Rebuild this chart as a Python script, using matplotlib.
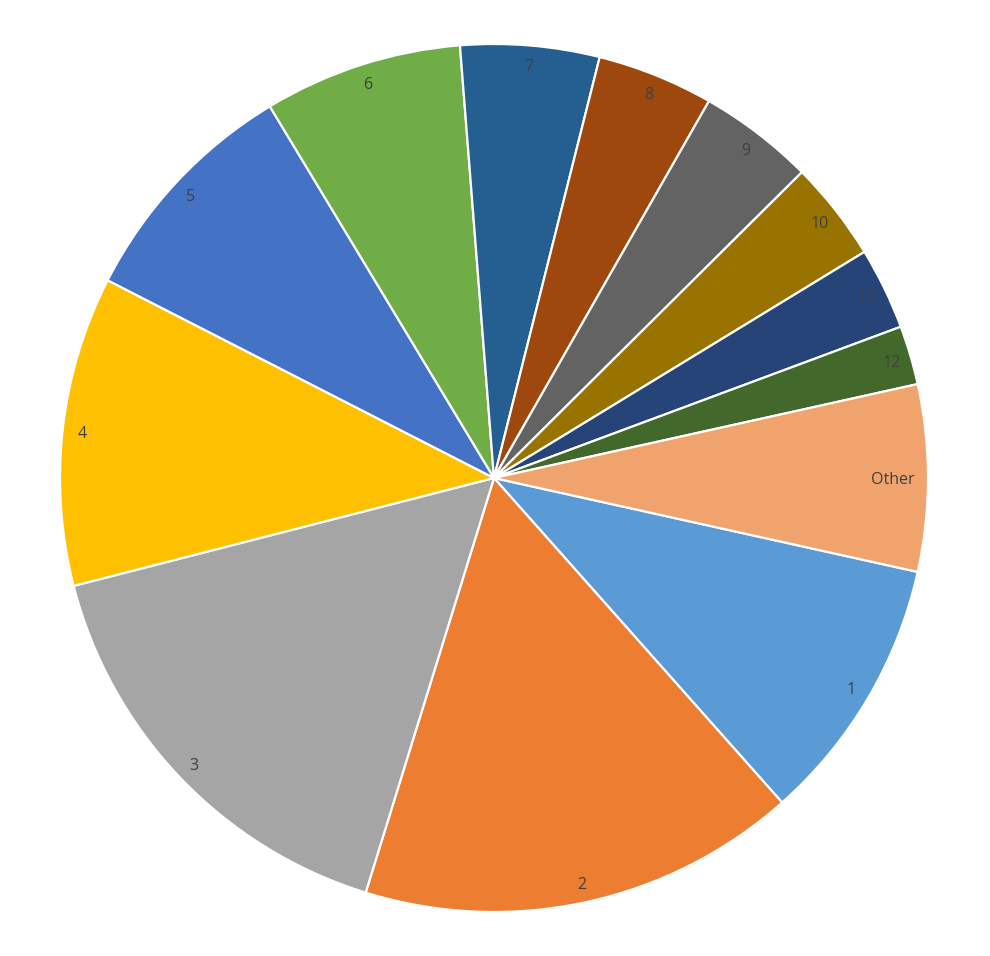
import numpy as np
import matplotlib
matplotlib.use('Agg')
import matplotlib.pyplot as plt

labels = ['1', '2', '3', '4', '5', '6', '7', '8', '9', '10', '11', '12', 'Other']
values = [35.9, 58.8, 58.4, 41.5, 31.8, 26.6, 18.6, 15.6, 15.5, 13.4, 11.0, 7.9, 25.0]
colors = ['#5B9BD5', '#ED7D31', '#A5A5A5', '#FFC000', '#4472C4', '#70AD47', '#255E91',
          '#9E480E', '#636363', '#997300', '#264478', '#43682B', '#F1A36D']

fig = plt.figure(figsize=(9.9, 9.56), dpi=100)
R = 434
ax = fig.add_axes([(494 - R) / 990, (478 - R) / 956, 2 * R / 990, 2 * R / 956])

wedges, texts = ax.pie(values, labels=labels, colors=colors, startangle=-12.5,
                       counterclock=False, radius=1, labeldistance=0.955,
                       wedgeprops=dict(edgecolor='white', linewidth=1.6),
                       textprops=dict(color='#404040', fontsize=11.5, family='Open Sans'))

# pull the wider "Other" label a bit inward (inside end placement)
for w, t in zip(wedges, texts):
    if t.get_text() == 'Other':
        ang = np.deg2rad((w.theta1 + w.theta2) / 2)
        t.set_position((0.92 * np.cos(ang), 0.92 * np.sin(ang)))
    t.set_ha('center')
    t.set_va('center_baseline')

ax.set_xlim(-1, 1)
ax.set_ylim(-1, 1)
ax.set_aspect('equal')
ax.axis('off')
fig.savefig('out.png', dpi=100)
